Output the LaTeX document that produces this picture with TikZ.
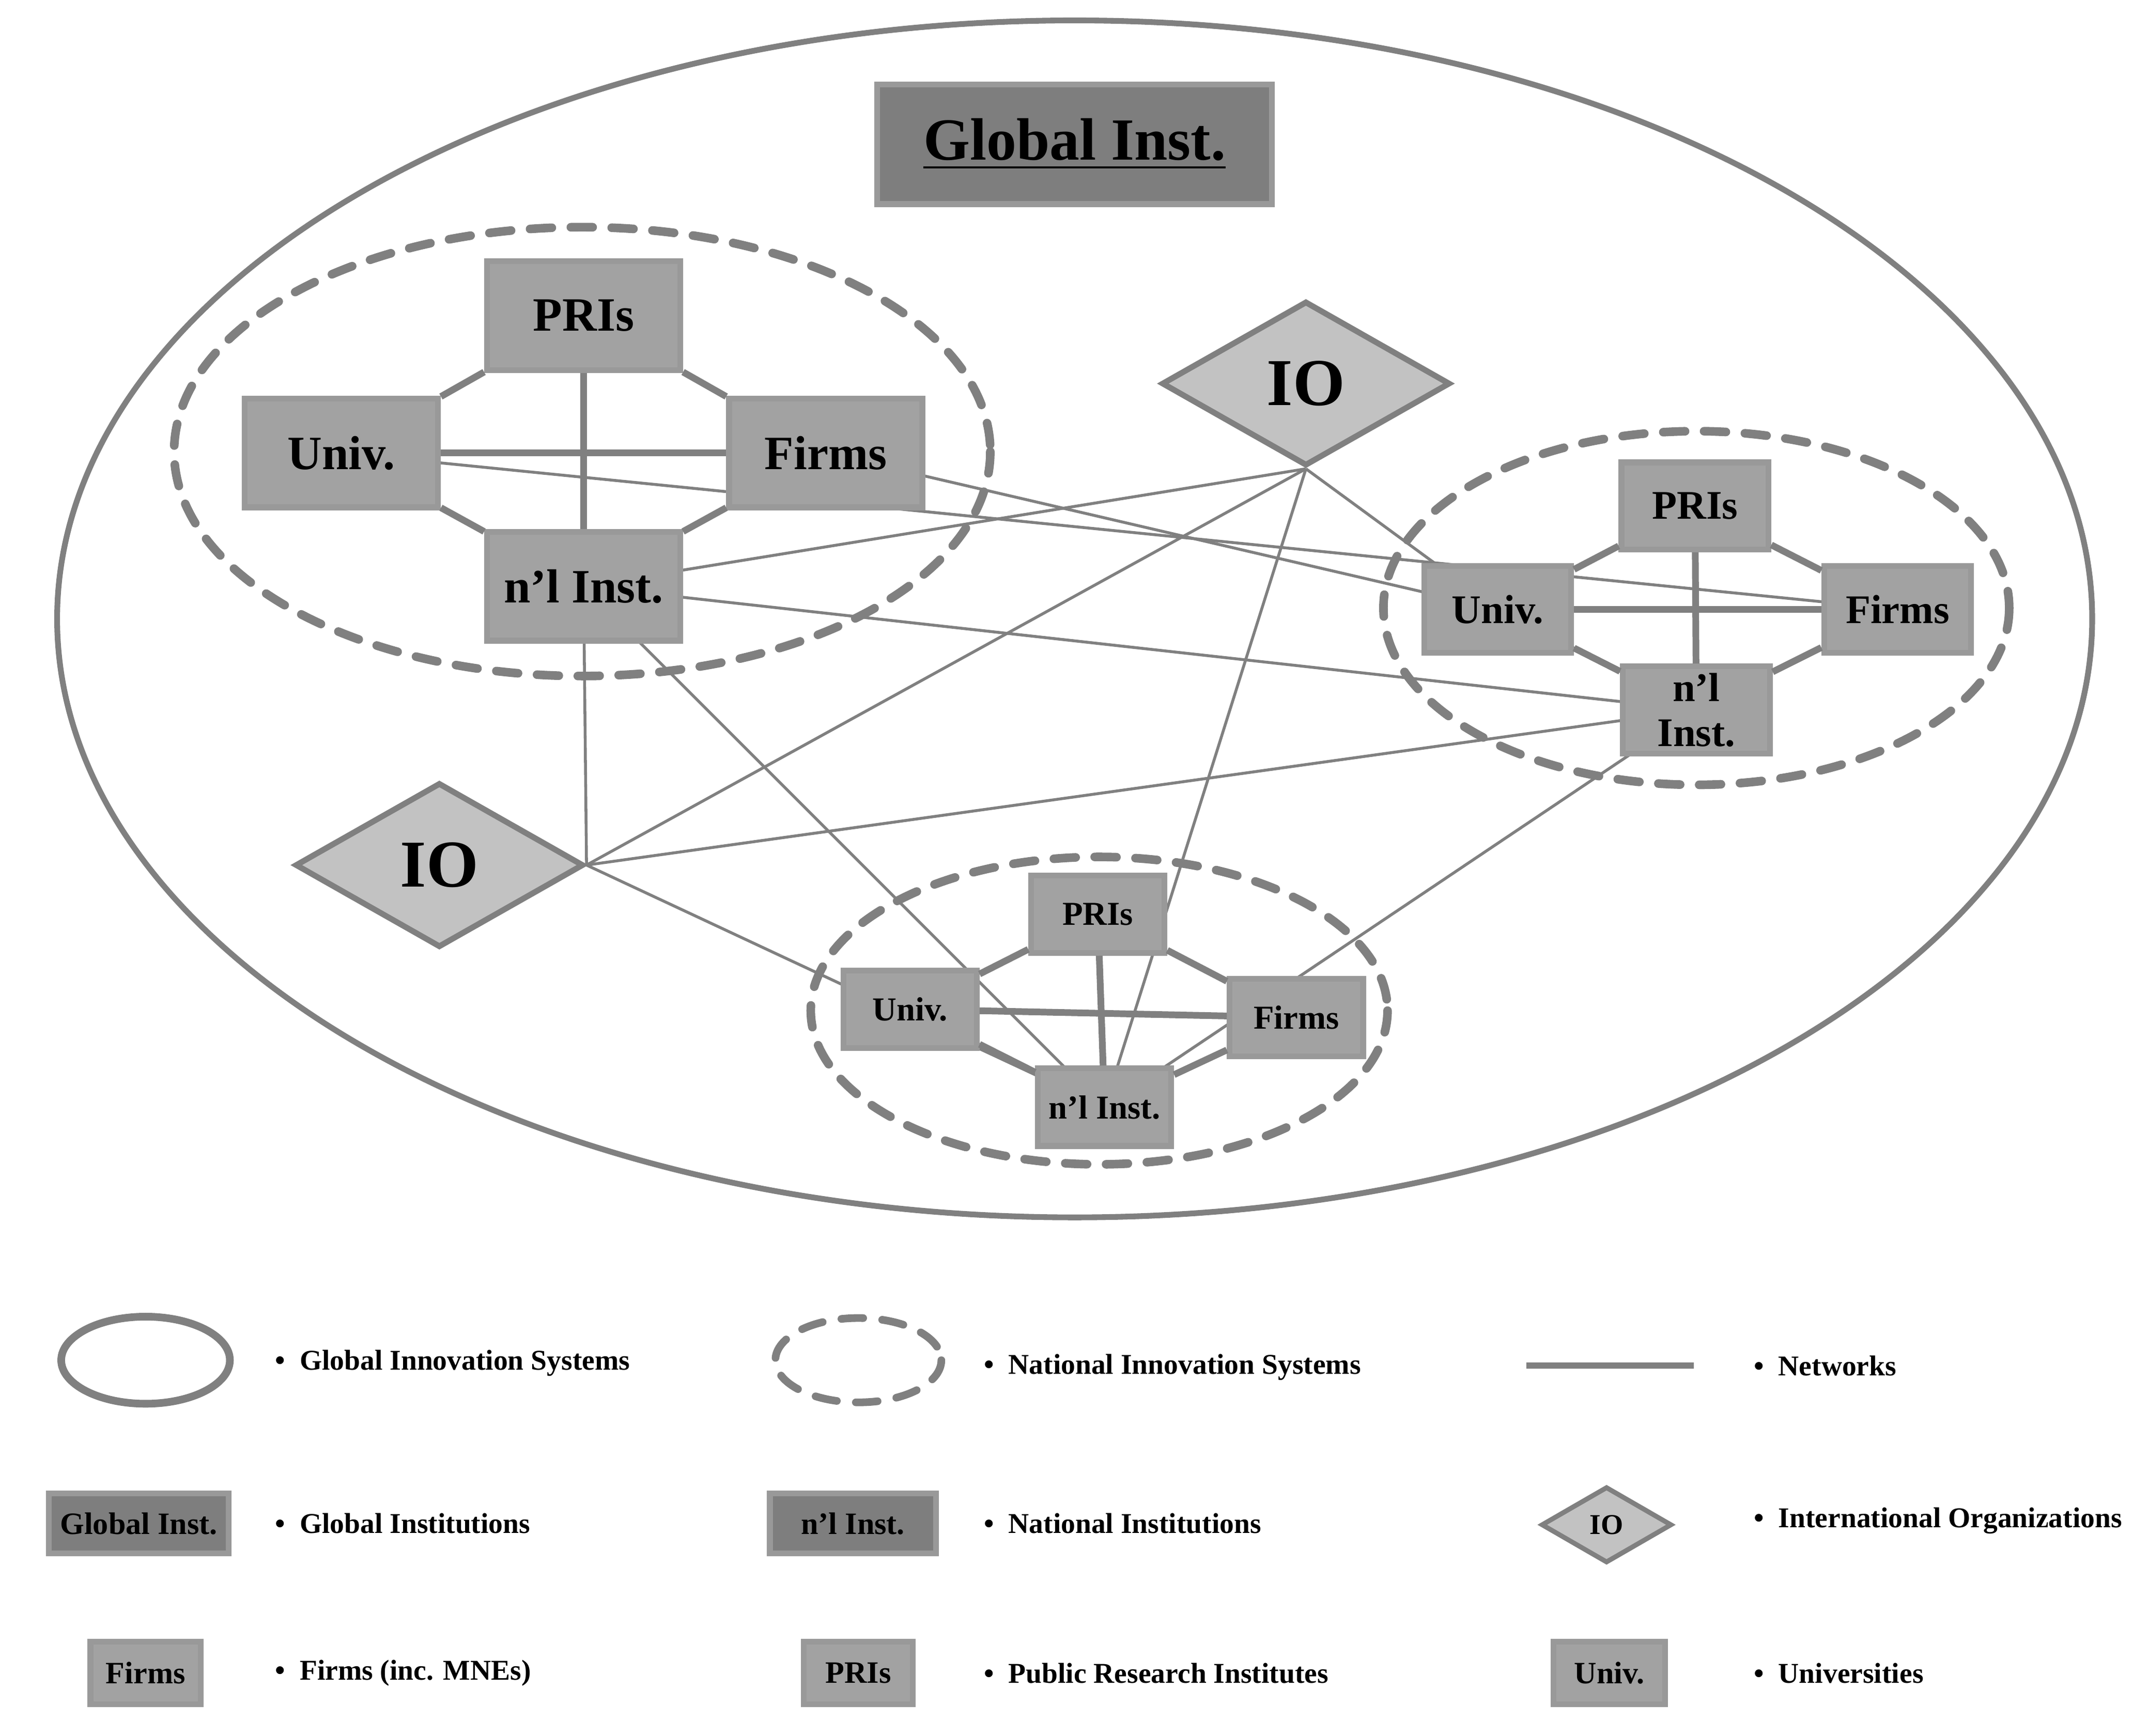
\documentclass[tikz,border=0pt]{standalone}
\usepackage{fontspec}
\setmainfont{Liberation Serif}
\usetikzlibrary{shapes.geometric}
\definecolor{edge}{HTML}{808080}
\definecolor{boxfill}{HTML}{A2A2A2}
\definecolor{darkfill}{HTML}{7E7E7E}
\definecolor{iofill}{HTML}{C2C2C2}
\begin{document}
\begin{tikzpicture}[x=0.01cm,y=-0.01cm,
  box/.style={draw=edge!85!black!70, line width=1.2pt, fill=boxfill, font=\bfseries, inner sep=0pt, align=center},
  big/.style={box, minimum width=1.42cm, minimum height=0.80cm, font=\fontsize{10}{11}\selectfont\bfseries},
  mid/.style={box, minimum width=1.08cm, minimum height=0.64cm, font=\fontsize{8.5}{9.5}\selectfont\bfseries},
  small/.style={box, minimum width=0.98cm, minimum height=0.57cm, font=\fontsize{7}{8}\selectfont\bfseries},
  io/.style={diamond, draw=edge, line width=1.2pt, fill=iofill, inner sep=0pt, aspect=1.76, minimum width=2.12cm, minimum height=1.21cm, font=\fontsize{14}{15}\selectfont\bfseries},
  tie/.style={draw=edge, line width=1.4pt},
  net/.style={draw=edge, line width=0.6pt},
  nis/.style={draw=edge, line width=1.8pt, dash pattern=on 0.16cm off 0.14cm, line cap=round},
  gis/.style={draw=edge, line width=1.2pt},
  leg/.style={anchor=west, font=\fontsize{6}{7}\selectfont\bfseries}]
\useasboundingbox (0,0) rectangle (1568,1276);
\fill[white] (0,0) rectangle (1568,1276);

% global system
\draw[gis] (790,455) ellipse [x radius=748, y radius=440];
\node[box, fill=darkfill, minimum width=2.9cm, minimum height=0.88cm, font=\fontsize{12.5}{14}\selectfont\bfseries] (gi) at (790,106) {\underline{Global Inst.}};

% national systems
\draw[nis] (428,332) ellipse [x radius=300, y radius=165];
\draw[nis] (1247,447) ellipse [x radius=230, y radius=130];
\draw[nis] (808,743) ellipse [x radius=212, y radius=113];

% networks between systems (behind nodes)
\node[io] (io1) at (960,282) {IO};
\node[io] (io2) at (323,636) {IO};

\coordinate (au) at (251,333); \coordinate (af) at (607,333); \coordinate (an) at (429,431);
\coordinate (bu) at (1101,448); \coordinate (bf) at (1395,448); \coordinate (bn) at (1247,522);
\coordinate (cu) at (669,742); \coordinate (cn) at (812,814);

\draw[net] (au) -- (bf);
\draw[net] (af) -- (bu);
\draw[net] (an) -- (io1.south);
\draw[net] (an) -- (bn);
\draw[net] (an) -- (io2.east);
\draw[net] (an) -- (cn);
\draw[net] (io1.south) -- (bu);
\draw[net] (io1.south) -- (io2.east);
\draw[net] (io1.south) -- (cn);
\draw[net] (io2.east) -- (bn);
\draw[net] (io2.east) -- (cn);
\draw[net] (bn) -- (cn);
\draw[net] (bu) -- (bn);
\draw[net] (cu) -- (cn);

% left system
\node[big] (ap) at (429,232) {PRIs};
\node[big] (aun) at (251,333) {Univ.};
\node[big] (afn) at (607,333) {Firms};
\node[big] (ann) at (429,431) {n’l Inst.};
\draw[tie] (ap) -- (aun); \draw[tie] (ap) -- (afn); \draw[tie] (ap) -- (ann);
\draw[tie] (aun) -- (afn); \draw[tie] (aun) -- (ann); \draw[tie] (afn) -- (ann);

% right system
\node[mid] (bp) at (1246,372) {PRIs};
\node[mid] (bun) at (1101,448) {Univ.};
\node[mid] (bfn) at (1395,448) {Firms};
\node[mid] (bnn) at (1247,522) {n’l\\Inst.};
\draw[tie] (bp) -- (bun); \draw[tie] (bp) -- (bfn); \draw[tie] (bp) -- (bnn);
\draw[tie] (bun) -- (bfn); \draw[tie] (bun) -- (bnn); \draw[tie] (bfn) -- (bnn);

% bottom system
\node[small] (cp) at (807,672) {PRIs};
\node[small] (cun) at (669,742) {Univ.};
\node[small] (cfn) at (953,748) {Firms};
\node[small] (cnn) at (812,814) {n’l Inst.};
\draw[tie] (cp) -- (cun); \draw[tie] (cp) -- (cfn); \draw[tie] (cp) -- (cnn);
\draw[tie] (cun) -- (cfn); \draw[tie] (cun) -- (cnn); \draw[tie] (cfn) -- (cnn);

% legend
\draw[gis, line width=1.6pt] (107,1000) ellipse [x radius=62, y radius=32];
\node[leg] (l1) at (190,1002) {•\ \ Global Innovation Systems};
\draw[nis, line width=1.6pt] (631,1000) ellipse [x radius=61, y radius=31];
\node[leg] (l2) at (711,1005) {•\ \ National Innovation Systems};
\coordinate (ls) at (1122,1004); \coordinate (le) at (1245,1004);
\draw[net, line width=1.3pt] (ls) -- (le);
\node[leg] (l3) at (1277,1004) {•\ \ Networks};

\node[box, fill=darkfill, minimum width=1.32cm, minimum height=0.44cm, font=\fontsize{6.5}{7}\selectfont\bfseries] (k1) at (102,1120) {Global Inst.};
\node[leg] (l4) at (190,1120) {•\ \ Global Institutions};
\node[box, fill=darkfill, minimum width=1.22cm, minimum height=0.44cm, font=\fontsize{6.5}{7}\selectfont\bfseries] (k2) at (627,1120) {n’l Inst.};
\node[leg] (l5) at (711,1120) {•\ \ National Institutions};
\node[io, minimum width=0.96cm, minimum height=0.56cm, line width=1pt, font=\fontsize{6}{7}\selectfont\bfseries] (k3) at (1181,1121) {IO};
\node[leg] (l6) at (1277,1118) {•\ \ International Organizations};

\node[box, minimum width=0.81cm, minimum height=0.46cm, font=\fontsize{6.5}{7}\selectfont\bfseries] (k4) at (107,1230) {Firms};
\node[leg] (l7) at (190,1230) {•\ \ Firms (inc. MNEs)};
\node[box, minimum width=0.80cm, minimum height=0.46cm, font=\fontsize{6.5}{7}\selectfont\bfseries] (k5) at (631,1230) {PRIs};
\node[leg] (l8) at (711,1230) {•\ \ Public Research Institutes};
\node[box, minimum width=0.82cm, minimum height=0.46cm, font=\fontsize{6.5}{7}\selectfont\bfseries] (k6) at (1183,1230) {Univ.};
\node[leg] (l9) at (1277,1230) {•\ \ Universities};
\end{tikzpicture}
\end{document}
